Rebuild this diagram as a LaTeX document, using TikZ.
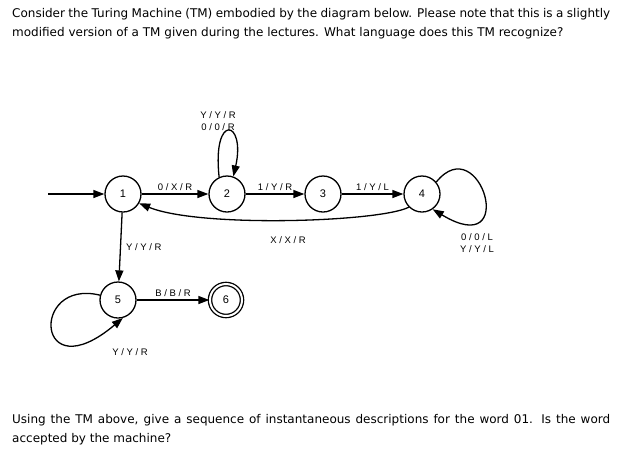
\documentclass[tikz,border=0pt]{standalone}
\usepackage{fontspec}
\setmainfont{DejaVu Sans}
\newfontfamily\lab{Liberation Sans}
\usetikzlibrary{arrows.meta}
\hyphenpenalty=10000
\begin{document}
\begin{tikzpicture}[x=1pt,y=-1pt,
  st/.style={circle,draw,line width=1.3pt,minimum size=36pt,inner sep=0pt,font=\lab\fontsize{11}{12}\selectfont},
  ed/.style={line width=1.3pt,-{Triangle[length=11pt,width=8pt]}},
  lb/.style={font=\lab\fontsize{9.5}{11.5}\selectfont,align=center,inner sep=1pt},
  para/.style={anchor=north west,align=justify,text width=598pt,inner sep=0pt,font=\fontsize{12.0}{19.6}\selectfont}]
\useasboundingbox (0,0) rectangle (632,456);
\node[para] (q) at (12,8) {\hyphenpenalty=10000 Consider the Turing Machine (TM) embodied by the diagram below. Please note that this is a slightly modified version of a TM given during the lectures. What language does this TM recognize?};
\node[para] (u) at (12,414) {Using the TM above, give a sequence of instantaneous descriptions for the word 01. Is the word accepted by the machine?};
\node[st] (n1) at (123,194) {1};
\node[st] (n2) at (227,194) {2};
\node[st] (n3) at (323,194) {3};
\node[st] (n4) at (422,194) {4};
\node[st] (n5) at (118,300) {5};
\node[st,double,double distance=2pt,minimum size=32pt] (n6) at (226,300) {6};
\coordinate (s) at (48,194);
\draw[ed] (s) -- (n1);
\draw[ed] (n1) -- node[lb,above=2pt]{0 / X / R} (n2);
\draw[ed] (n2) -- node[lb,above=2pt]{1 / Y / R} (n3);
\draw[ed] (n3) -- node[lb,above=2pt]{1 / Y / L} (n4);
\draw[ed] (n4.south west) .. controls (380,222) and (200,228) .. (n1.-30);
\node[lb] (lx) at (288,240) {X / X / R};
\draw[ed] (n1) -- node[lb,right=4pt,pos=0.5]{Y / Y / R} (n5);
\draw[ed] (n5) -- node[lb,above=2pt]{B / B / R} (n6);
\draw[ed] (n2.115) .. controls (212,112) and (246,120) .. (n2.70);
\node[lb] (l2) at (218,121) {Y / Y / R\\0 / 0 / R};
\draw[ed] (n4.40) .. controls (480,128) and (520,262) .. (n4.-55);
\node[lb] (l4) at (477,243) {0 / 0 / L\\Y / Y / L};
\draw[ed] (n5.165) .. controls (30,278) and (35,392) .. (n5.-75);
\node[lb] (l5) at (130,352) {Y / Y / R};
\end{tikzpicture}
\end{document}
